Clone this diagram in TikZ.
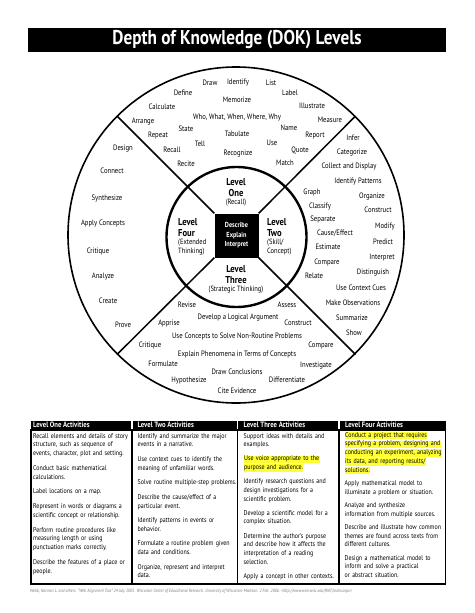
\documentclass[tikz,border=0pt]{standalone}
\usepackage{fontspec}
\setmainfont{PT Sans}[FakeStretch=0.86]
\usetikzlibrary{calc}
\definecolor{hly}{HTML}{FFFF33}
\definecolor{footgray}{HTML}{7A7A7A}
\newlength{\pgap}
\newcommand{\nextpara}{\par\vspace{\pgap}}
\newcommand{\hlt}[1]{{\setlength{\fboxsep}{0.5pt}\colorbox{hly}{\rule[-1.7pt]{0pt}{5.8pt}#1}}}
\begin{document}
\begin{tikzpicture}[x=1pt,y=-1pt,
  word/.style={font=\fontsize{7.8}{9}\selectfont, inner sep=0pt, text height=5.5pt, text depth=1.5pt, anchor=center},
  lvbold/.style={font=\bfseries\fontsize{10}{11}\selectfont, inner sep=0pt, text height=7pt, text depth=0pt},
  lvsub/.style={font=\fontsize{7.6}{9}\selectfont, inner sep=0pt, text height=5.5pt, text depth=1.6pt},
  cell/.style={font=\fontsize{6.95}{8.7}\selectfont, text width=110pt, align=left, inner sep=0pt, anchor=north west, execute at begin node={\setlength{\parindent}{0pt}}},
  headtxt/.style={font=\bfseries\fontsize{7.8}{8}\selectfont, text=white, inner sep=0pt, anchor=west, text height=5.5pt, text depth=1.5pt},
]
\useasboundingbox[fill=white] (0,0) rectangle (474,613);

% title
\fill[black] (28,27.5) rectangle (446,52);
\node[font=\bfseries\fontsize{20}{22}\selectfont, text=white, inner sep=0pt] (title) at (237,40) {Depth of Knowledge (DOK) Levels};

% wheel
\coordinate (O) at (236,235);
\coordinate (I) at (236.5,237);
\node[fill=black, minimum width=44pt, minimum height=44pt, inner sep=0pt] (coreback) at (236.5,235.5) {};
\coordinate (eTL) at (117,116);
\coordinate (eTR) at (355.5,116);
\coordinate (eBL) at (117,354.5);
\coordinate (eBR) at (355.5,354.5);
\draw[line width=1.5pt] (coreback.north west) -- (eTL);
\draw[line width=1.5pt] (coreback.north east) -- (eTR);
\draw[line width=1.5pt] (coreback.south west) -- (eBL);
\draw[line width=1.5pt] (coreback.south east) -- (eBR);
\draw[line width=1.6pt] (O) circle[radius=168pt];
\draw[line width=2.4pt] (I) circle[radius=70pt];
\node[fill=black, minimum width=44pt, minimum height=44pt, inner sep=0pt, text=white, align=center, font=\bfseries\fontsize{7.3}{9.5}\selectfont] (core) at (236.5,235.5) {Describe\\Explain\\Interpret};

% level words
\foreach \x/\y/\t [count=\i] in {
 210/83/Draw, 238/82/Identify, 271/83/List, 183/93/Define, 290/93/Label, 237/100/Memorize,
 162/107/Calculate, 312/106/Illustrate, 237/117/{Who, What, When, Where, Why}, 143/121/Arrange,
 330/120/Measure, 186/129/State, 289/128/Name, 158/135/Repeat, 237/134/Tabulate, 315/135/Report,
 200/144/Tell, 272/143/Use, 172/150/Recall, 238/153/Recognize, 300/150/Quote, 186/164/Recite, 285/163/Match,
 353/138/Infer, 352/152/Categorize, 349/166/Collect and Display, 358/181/Identify Patterns, 312/192/Graph,
 372/196/Organize, 320/206/Classify, 378/210/Construct, 323/219/Separate, 385/226/Modify,
 335/233/{Cause/Effect}, 383/242/Predict, 328/247/Estimate, 382/257/Interpret, 327/262/Compare,
 373/272/Distinguish, 314/276/Relate, 361/288/Use Context Cues, 353/303/Make Observations,
 352/318/Summarize, 354/333/Show,
 187/305/Revise, 287/305/Assess, 238/317/Develop a Logical Argument, 169/323/Apprise, 298/323/Construct,
 237/336/Use Concepts to Solve Non-Routine Problems, 150/345/Critique, 321/345/Compare,
 237/354/Explain Phenomena in Terms of Concepts, 163/364/Formulate, 316/365/Investigate,
 237/372/Draw Conclusions, 189/380/Hypothesize, 287/380/Differentiate, 237/391/Cite Evidence,
 123/148/Design, 112/171/Connect, 107/198/Synthesize, 103/223/Apply Concepts, 98/251/Critique,
 103/276/Analyze, 108/301/Create, 123/325/Prove}
 \node[word] (w\i) at (\x,\y) {\t};

% inner labels
\node[lvbold] (l1a) at (236,182) {Level};
\node[lvbold] (l1b) at (236,193) {One};
\node[lvsub] (l1c) at (236,203) {(Recall)};
\node[lvbold, anchor=west] (l2a) at (267,222) {Level};
\node[lvbold, anchor=west] (l2b) at (267,233) {Two};
\node[lvsub, anchor=west] (l2c) at (267,243) {(Skill/};
\node[lvsub, anchor=west] (l2d) at (267,252) {Concept)};
\node[lvbold] (l3a) at (236,269) {Level};
\node[lvbold] (l3b) at (236,280) {Three};
\node[lvsub] (l3c) at (236,290) {(Strategic Thinking)};
\node[lvbold, anchor=west] (l4a) at (178,222) {Level};
\node[lvbold, anchor=west] (l4b) at (178,233) {Four};
\node[lvsub, anchor=west] (l4c) at (178,243) {(Extended};
\node[lvsub, anchor=west] (l4d) at (178,252) {Thinking)};

% table header
\fill[black] (30.5,420.5) rectangle (131.3,430);
\fill[black] (132.7,420.5) rectangle (236.8,430);
\fill[black] (238.2,420.5) rectangle (338.3,430);
\fill[black] (339.7,420.5) rectangle (445.5,430);
\node[headtxt] (h1) at (33,425.3) {Level One Activities};
\node[headtxt] (h2) at (137.5,425.3) {Level Two Activities};
\node[headtxt] (h3) at (243.5,425.3) {Level Three Activities};
\node[headtxt] (h4) at (345,425.3) {Level Four Activities};

% table body
\draw[line width=1.3pt] (31,430) rectangle (445.5,584);
\draw[line width=1.1pt] (132,430) -- (132,584);
\draw[line width=1.1pt] (237.5,430) -- (237.5,584);
\draw[line width=1.1pt] (339,430) -- (339,584);

\node[cell] (c1) at (33,433) {\setlength{\pgap}{6.1pt}Recall elements and details of story\\structure, such as sequence of\\events, character, plot and setting.\nextpara
Conduct basic mathematical\\calculations.\nextpara
Label locations on a map.\nextpara
Represent in words or diagrams a\\scientific concept or relationship.\nextpara
Perform routine procedures like\\measuring length or using\\punctuation marks correctly.\nextpara
Describe the features of a place or\\people.};

\node[cell] (c2) at (137.5,433) {\setlength{\pgap}{5.9pt}Identify and summarize the major\\events in a narrative.\nextpara
Use context cues to identify the\\meaning of unfamiliar words.\nextpara
Solve routine multiple-step problems.\nextpara
Describe the cause/effect of a\\particular event.\nextpara
Identify patterns in events or\\behavior.\nextpara
Formulate a routine problem given\\data and conditions.\nextpara
Organize, represent and interpret\\data.};

\node[cell] (c3) at (243.5,433) {\setlength{\pgap}{5.4pt}Support ideas with details and\\examples.\nextpara
\hlt{Use voice appropriate to the}\\\hlt{purpose and audience.}\nextpara
Identify research questions and\\design investigations for a\\scientific problem.\nextpara
Develop a scientific model for a\\complex situation.\nextpara
Determine the author’s purpose\\and describe how it affects the\\interpretation of a reading\\selection.\nextpara
Apply a concept in other contexts.};

\node[cell] (c4) at (344.5,431.6) {\setlength{\pgap}{4.6pt}\hlt{Conduct a project that requires}\\\hlt{specifying a problem, designing and}\\\hlt{conducting an experiment, analyzing}\\\hlt{its data, and reporting results/}\\\hlt{solutions.}\nextpara
Apply mathematical model to\\illuminate a problem or situation.\nextpara
Analyze and synthesize\\information from multiple sources.\nextpara
Describe and illustrate how common\\themes are found across texts from\\different cultures.\nextpara
Design a mathematical model to\\inform and solve a practical\\or abstract situation.};

% footer
\node[font=\itshape\fontsize{4.6}{5}\selectfont, text=footgray, anchor=west, inner sep=0pt] (foot) at (30,591) {Webb, Norman L. and others. “Web Alignment Tool” 24 July 2005. Wisconsin Center of Educational Research. University of Wisconsin-Madison. 2 Feb. 2006. <http://www.wcer.wisc.edu/WAT/index.aspx>};
\end{tikzpicture}
\end{document}
